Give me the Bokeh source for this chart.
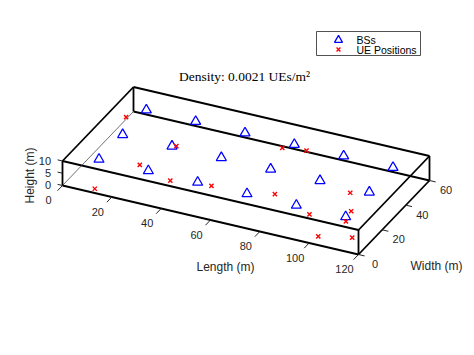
import numpy as np
from bokeh.plotting import figure
from bokeh.models import Range1d
from bokeh.core.properties import value
from bokeh.embed import file_html
from bokeh.resources import INLINE

# ---------------- data ----------------
bs_length = [10, 30, 50, 70, 90, 110, 10, 30, 50, 70, 90, 110, 10, 30, 50, 70, 90, 110]
bs_width = [10, 10, 10, 10, 10, 10, 30, 30, 30, 30, 30, 30, 50, 50, 50, 50, 50, 50]
bs_height = [8] * 18

ue_length = [0.5, 26.4, 20.2, 12.9, 35.3, 50.6, 62.0, 70.9, 74.3, 98.8, 105.0, 92.2, 106.5, 102.1, 113.7]
ue_width = [52.7, 41.2, 23.2, 0.4, 17.5, 20.4, 56.5, 58.4, 24.6, 37.2, 25.1, 16.5, 17.5, 3.3, 7.8]
ue_height = [1.5] * 15

length_ticks = [0, 20, 40, 60, 80, 100, 120]
width_ticks = [0, 20, 40, 60]
height_ticks = [0, 5, 10]
length_lim = (0, 120)
width_lim = (0, 60)
height_lim = (0, 10)

title_text = "Density: 0.0021 UEs/m\u00b2"
legend_labels = ["BSs", "UE Positions"]

# ---------------- projection (view of the 3-D axes) ----------------
O = np.array([62.0, 185.0])
eL = np.array([296.0, 69.0]) / 120.0
eW = np.array([71.0, -74.0]) / 60.0
eH = np.array([0.0, -24.5]) / 10.0


def proj(L, W, H):
    L = np.asarray(L, float); W = np.asarray(W, float); H = np.asarray(H, float)
    x = O[0] + eL[0] * L + eW[0] * W + eH[0] * H
    y = O[1] + eL[1] * L + eW[1] * W + eH[1] * H
    return x, -y


PW, PH = 470, 345
p = figure(width=PW, height=PH, x_range=Range1d(0, PW), y_range=Range1d(-PH, 0),
           output_backend="svg", toolbar_location=None, min_border=0,
           x_axis_location=None, y_axis_location=None)
p.grid.visible = False
p.outline_line_color = None
p.background_fill_color = "white"
p.border_fill_color = "white"

L0, L1 = length_lim
W0, W1 = width_lim
H0, H1 = height_lim

# box edges
edges = [
    ((L0, W0, H1), (L1, W0, H1)), ((L1, W0, H1), (L1, W1, H1)),
    ((L1, W1, H1), (L0, W1, H1)), ((L0, W1, H1), (L0, W0, H1)),
    ((L0, W0, H0), (L1, W0, H0)), ((L1, W0, H0), (L1, W1, H0)),
    ((L1, W1, H0), (L0, W1, H0)),
    ((L0, W0, H0), (L0, W0, H1)), ((L1, W0, H0), (L1, W0, H1)),
    ((L1, W1, H0), (L1, W1, H1)), ((L0, W1, H0), (L0, W1, H1)),
]
xs, ys = [], []
for a, b in edges:
    x, y = proj([a[0], b[0]], [a[1], b[1]], [a[2], b[2]])
    xs.append(list(x)); ys.append(list(y))
p.multi_line(xs, ys, line_color="black", line_width=1.8)
x, y = proj([L0, L0], [W0, W1], [H0, H0])
p.line(x, y, line_color="#333333", line_width=0.7)

font = value("Liberation Sans")
tick_col = "#262626"

# length ticks (front bottom edge)
tx, ty = [], []
for t in length_ticks:
    a = proj(t, W0, H0); b = proj(t, W0 - 4.2, H0)
    tx.append([float(a[0]), float(b[0])]); ty.append([float(a[1]), float(b[1])])
p.multi_line(tx, ty, line_color=tick_col, line_width=1)
lx, ly = proj(length_ticks, [W0] * len(length_ticks), [H0] * len(length_ticks))
p.text(x=lx - 14, y=ly - 14.5, text=[str(t) for t in length_ticks], text_font=font,
       text_font_size=value("11px"), text_color=tick_col, text_align="center", text_baseline="middle")

# width ticks (right bottom edge)
tx, ty = [], []
for t in width_ticks:
    a = proj(L1, t, H0); b = proj(L1 + 2.5, t, H0)
    tx.append([float(a[0]), float(b[0])]); ty.append([float(a[1]), float(b[1])])
p.multi_line(tx, ty, line_color=tick_col, line_width=1)
wx, wy = proj([L1] * len(width_ticks), width_ticks, [H0] * len(width_ticks))
p.text(x=wx + 16.5, y=wy - 9.5, text=[str(t) for t in width_ticks], text_font=font,
       text_font_size=value("11px"), text_color=tick_col, text_align="center", text_baseline="middle")

# height ticks (front left vertical edge)
tx, ty = [], []
for t in height_ticks:
    a = proj(L0, W0, t); b = proj(L0 - 2.0, W0, t)
    tx.append([float(a[0]), float(b[0])]); ty.append([float(a[1]), float(b[1])])
p.multi_line(tx, ty, line_color=tick_col, line_width=1)
hx, hy = proj([L0] * len(height_ticks), [W0] * len(height_ticks), height_ticks)
p.text(x=hx - 11.5, y=hy + 0.5, text=[str(t) for t in height_ticks], text_font=font,
       text_font_size=value("11px"), text_color=tick_col, text_align="right", text_baseline="middle")

# axis labels
p.text(x=[225], y=[-266], text=["Length (m)"], text_font=font, text_font_size=value("12px"),
       text_color=tick_col, text_align="center", text_baseline="middle")
p.text(x=[436], y=[-265], text=["Width (m)"], text_font=font, text_font_size=value("12px"),
       text_color=tick_col, text_align="center", text_baseline="middle")
p.text(x=[29], y=[-175], text=["Height (m)"], angle=np.pi / 2, text_font=font,
       text_font_size=value("12px"), text_color=tick_col, text_align="center", text_baseline="middle")

# title
p.text(x=[244], y=[-76], text=[title_text], text_font=value("Liberation Serif"),
       text_font_size=value("13.5px"), text_color="black", text_align="center", text_baseline="middle")

# data points
bx, by = proj(bs_length, bs_width, bs_height)
p.scatter(bx, by, marker="triangle", size=10, fill_color=None, line_color="blue", line_width=1.3)
ux, uy = proj(ue_length, ue_width, ue_height)
p.scatter(ux, uy, marker="x", size=6, line_color="red", line_width=1.4)

# legend
p.quad(left=[316], right=[420], top=[-31], bottom=[-55], fill_color="white",
       line_color="#262626", line_width=0.8)
p.scatter([338], [-39.5], marker="triangle", size=8, fill_color=None, line_color="blue", line_width=1.3)
p.scatter([338], [-49], marker="x", size=5.5, line_color="red", line_width=1.4)
p.text(x=[356, 356], y=[-39.5, -49], text=legend_labels, text_font=font, text_font_size=value("10.5px"),
       text_color="black", text_align="left", text_baseline="middle")

open("out.html", "w").write(file_html(p, INLINE))
